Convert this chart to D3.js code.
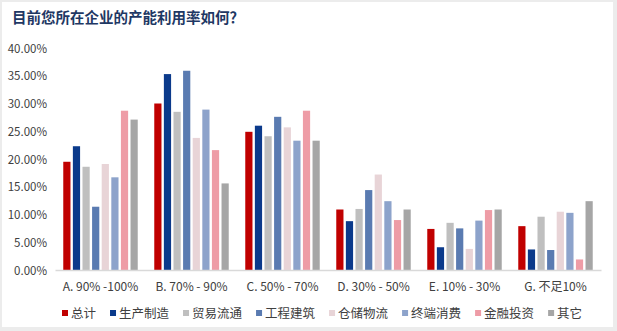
<!DOCTYPE html>
<html>
<head>
<meta charset="utf-8">
<script src="https://cdn.jsdelivr.net/npm/d3@7"></script>
<style>
  html, body { margin: 0; padding: 0; background: #ffffff; }
  svg { display: block; }
  text { font-family: "Noto Sans CJK SC", "Noto Sans", sans-serif; }
</style>
</head>
<body>
<svg id="chart" width="617" height="331"></svg>
<script>
// Capacity utilisation survey: share of respondents per range, by industry
const title = "目前您所在企业的产能利用率如何？";
const categories = ["A. 90% -100%", "B. 70% - 90%", "C. 50% - 70%", "D. 30% - 50%", "E. 10% - 30%", "G. 不足10%"];
const seriesNames = ["总计", "生产制造", "贸易流通", "工程建筑", "仓储物流", "终端消费", "金融投资", "其它"];
const seriesColors = ["#C00000", "#0B3A8B", "#BFBFBF", "#5A7BB1", "#E8D4D7", "#8DA3CB", "#EE9CA6", "#A6A6A6"];

// values in percent, one array per industry, ordered as categories
const total        = [19.5, 30.0, 24.9, 10.9, 7.4, 7.9];
const manufacture  = [22.3, 35.3, 26.0,  8.8, 4.1, 3.7];
const trade        = [18.6, 28.5, 24.1, 11.0, 8.5, 9.6];
const construction = [11.4, 35.9, 27.6, 14.4, 7.5, 3.6];
const logistics    = [19.1, 23.8, 25.7, 17.2, 3.8, 10.5];
const consumer     = [16.7, 28.9, 23.3, 12.4, 8.9, 10.3];
const finance      = [28.7, 21.6, 28.7,  9.0, 10.8, 1.9];
const other        = [27.1, 15.6, 23.3, 10.9, 10.9, 12.4];
const seriesValues = [total, manufacture, trade, construction, logistics, consumer, finance, other];

const yTicks = [0, 5, 10, 15, 20, 25, 30, 35, 40];

const svg = d3.select("#chart");
const W = 617, H = 331;

// frame
svg.append("rect").attr("x", 0).attr("y", 0).attr("width", W).attr("height", H).attr("fill", "#ECECEC");
svg.append("rect").attr("x", 2).attr("y", 2).attr("width", 611).attr("height", 325).attr("fill", "#ffffff");

// title
svg.append("text")
  .attr("x", 12).attr("y", 23)
  .attr("font-size", 14.5).attr("font-weight", "bold")
  .attr("fill", "#1F3864")
  .text(title);

const plot = { left: 55, right: 601, top: 48, bottom: 270 };

const x0 = d3.scaleBand().domain(categories).range([plot.left, plot.right]).padding(0);
const x1 = d3.scaleBand().domain(seriesNames).range([0, x0.bandwidth()])
  .paddingInner(0.25).paddingOuter(0.86);
const y = d3.scaleLinear().domain([0, 40]).range([plot.bottom, plot.top]);

// y axis labels (no axis line, no gridlines)
const yAxis = d3.axisLeft(y).tickValues(yTicks).tickSize(0).tickPadding(0)
  .tickFormat(d => d3.format(".2f")(d) + "%");
const gy = svg.append("g").attr("transform", "translate(47,0)").call(yAxis);
gy.select(".domain").remove();
gy.selectAll("text").attr("font-size", 11.5).attr("fill", "#404040")
  .attr("font-family", "'Noto Sans CJK SC', sans-serif").attr("dy", "0.35em");

// bars
const groups = svg.append("g").selectAll("g")
  .data(categories)
  .join("g")
  .attr("transform", d => `translate(${x0(d)},0)`);

groups.selectAll("rect")
  .data((c, ci) => seriesNames.map((s, si) => ({ s, si, v: seriesValues[si][ci] })))
  .join("rect")
  .attr("x", d => x1(d.s))
  .attr("width", x1.bandwidth())
  .attr("y", d => y(d.v))
  .attr("height", d => y(0) - y(d.v))
  .attr("fill", d => seriesColors[d.si]);

// baseline and category labels
const xAxis = d3.axisBottom(x0).tickSize(0).tickPadding(0);
const gx = svg.append("g").attr("transform", `translate(0,${plot.bottom})`).call(xAxis);
gx.select(".domain").attr("stroke", "#D9D9D9").attr("stroke-width", 1.5);
gx.selectAll("text").attr("font-size", 12).attr("fill", "#404040")
  .attr("dy", "1.75em");

// legend
const legend = svg.append("g").attr("transform", "translate(62,313)");
let lx = 0;
seriesNames.forEach((name, i) => {
  const g = legend.append("g").attr("transform", `translate(${lx},0)`);
  g.append("rect").attr("x", 0).attr("y", -3).attr("width", 6).attr("height", 6)
    .attr("fill", seriesColors[i]);
  const t = g.append("text").attr("x", 9).attr("y", 0).attr("dy", "0.36em")
    .attr("font-size", 12.5).attr("fill", "#404040").text(name);
  lx += 9 + t.node().getComputedTextLength() + 14;
});
</script>
</body>
</html>
